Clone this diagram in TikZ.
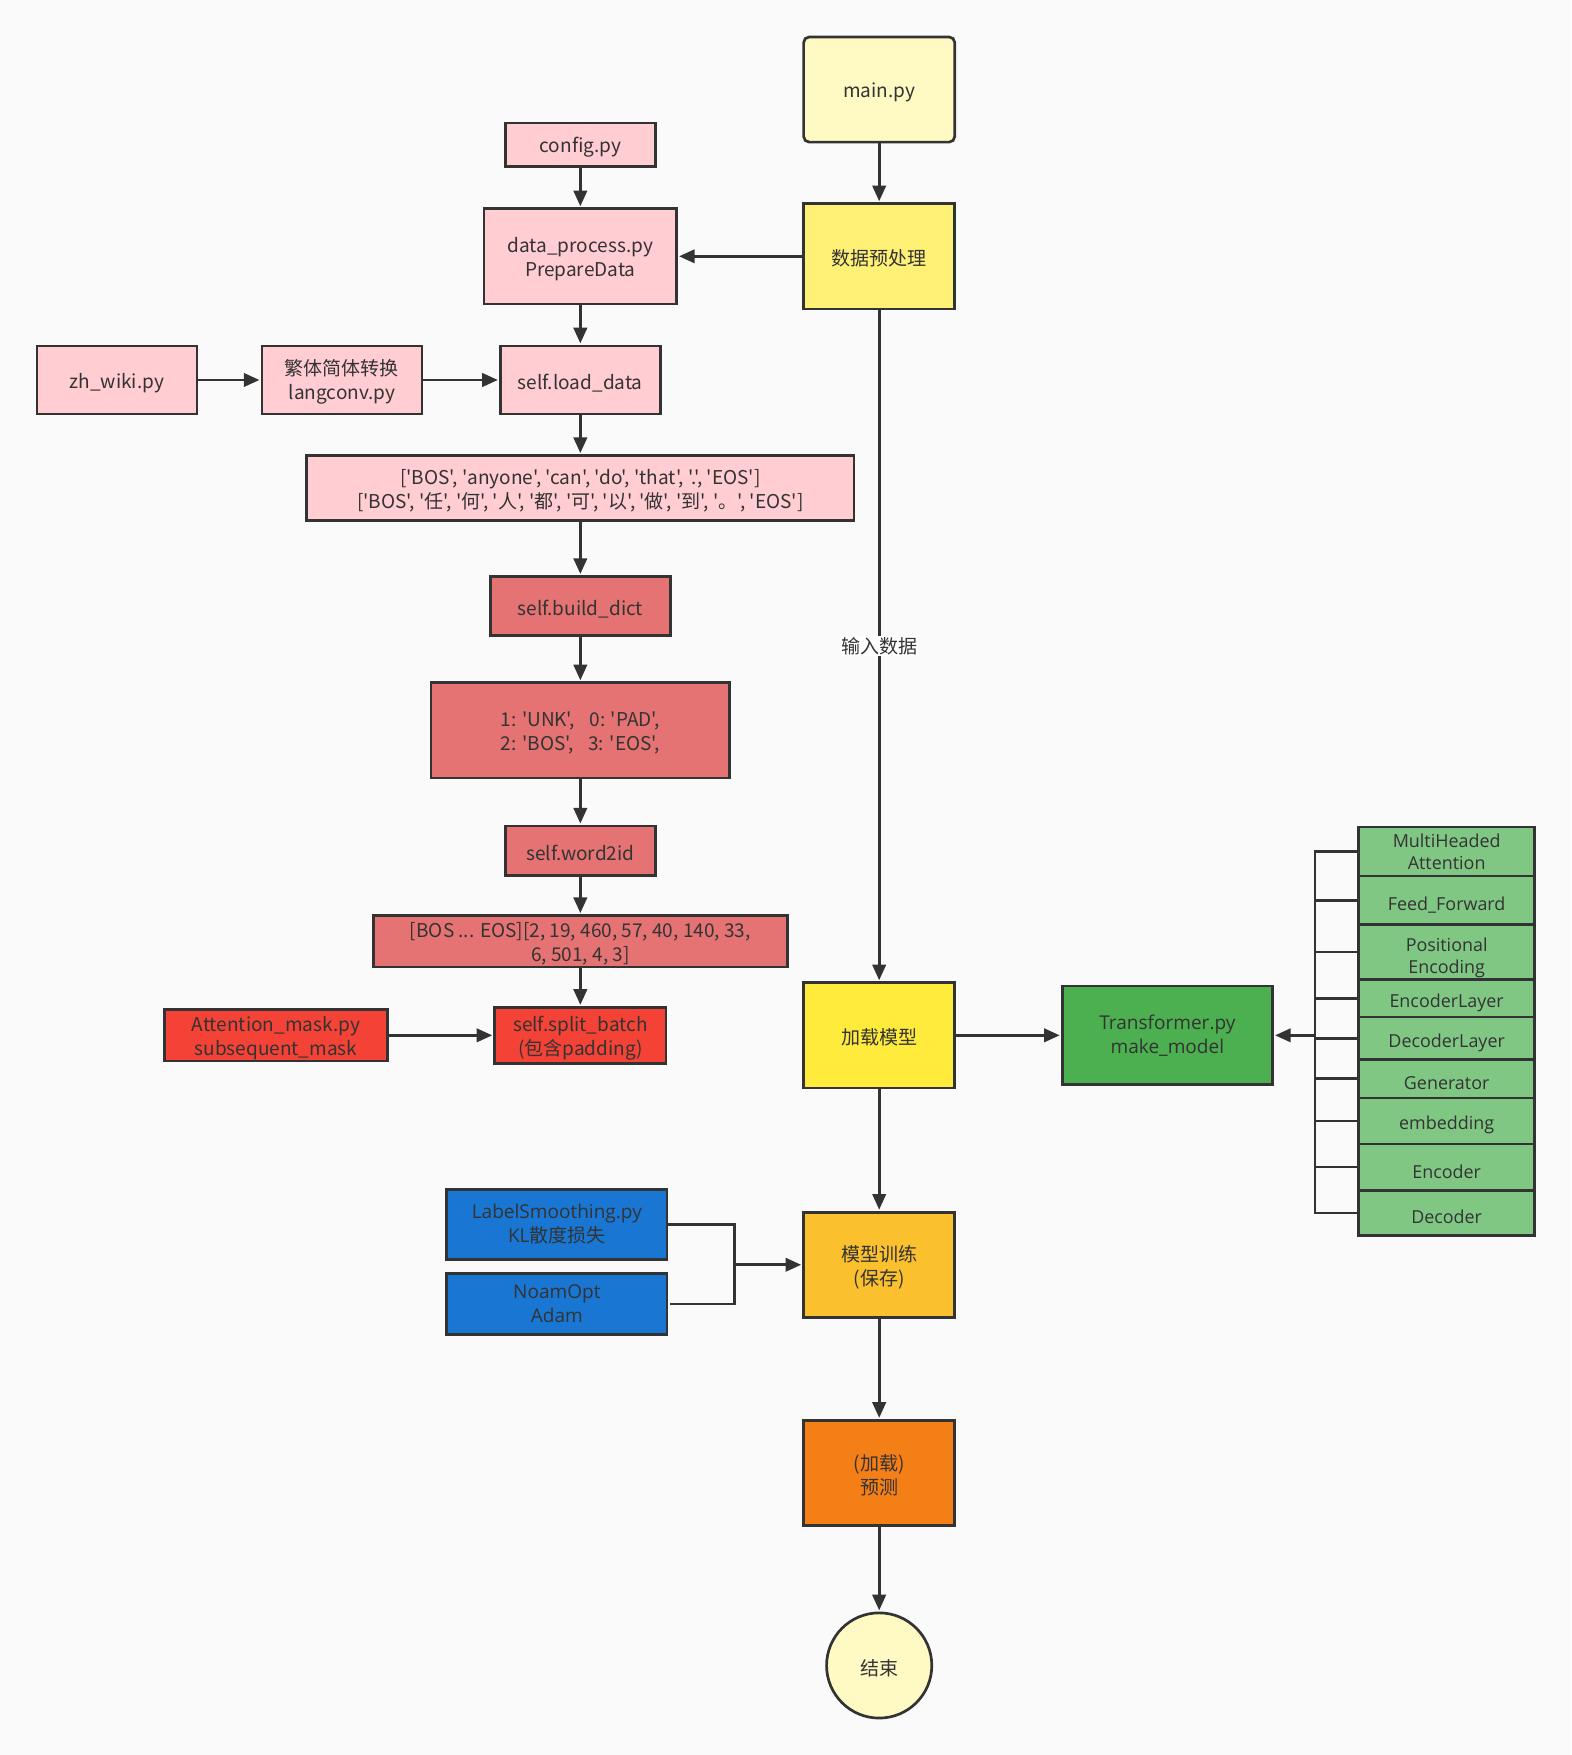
\documentclass[tikz,border=0pt]{standalone}
\usepackage{fontspec}
\setmainfont{Noto Sans CJK SC}[Ligatures=TeXOff]
\newfontfamily\segoe{Open Sans}[Ligatures=TeXOff]
\usetikzlibrary{arrows.meta,positioning}

\definecolor{bgcol}{HTML}{FAFAFA}
\definecolor{linecol}{HTML}{333333}
\definecolor{paleyellow}{HTML}{FFF9C4}
\definecolor{midyellow}{HTML}{FFF176}
\definecolor{yellow}{HTML}{FFEB3B}
\definecolor{amber}{HTML}{FBC02D}
\definecolor{orange}{HTML}{F57F17}
\definecolor{pink}{HTML}{FFCDD2}
\definecolor{salmon}{HTML}{E57373}
\definecolor{red}{HTML}{F44336}
\definecolor{darkgreen}{HTML}{4CAF50}
\definecolor{lightgreen}{HTML}{81C784}
\definecolor{blue}{HTML}{1976D2}

% strut for the first of two lines, sets the text a bit lower
\newcommand{\firstline}{\rule{0pt}{\liftht}}

\begin{document}
\begin{tikzpicture}[
    x = 1pt, y = -1pt, % one unit per pixel, y downwards
    > = {Triangle[length=14pt,width=12pt]}, % arrow head style
    shorten > = 1pt, % don't push arrow head into node
    line width = 2.4pt,
    color = linecol,
    font = \fontsize{17}{21.5}\selectfont
    ]

    \tikzset{
    lift/.store in = \liftht, lift = 18.5pt,
    box/.style = {draw = linecol, fill = #1, line width = 2.4pt,
                  inner xsep = 2pt, inner ysep = 1pt, align = center,
                  execute at begin node = {\rule{0pt}{\liftht}}},
    greenrow/.style = {box = lightgreen, outer sep = 0pt, minimum width = 157,
                       inner ysep = 0pt, lift = 20pt,
                       font = \segoe\fontsize{16}{20}\selectfont},
    segoefont/.style = {lift = 14pt, font = \segoe\fontsize{17}{21.5}\selectfont},
    every edge/.style = {draw, line width = 2.4pt}
    }

    \fill[bgcol] (0,0) rectangle (1404,1568);

    % main column
    \node[box=paleyellow, rounded corners=5pt, minimum width=135, minimum height=94] (main) at (785.5,80) {main.py};
    \node[box=midyellow, minimum width=135, minimum height=94] (pre) at (785.5,229) {数据预处理};
    \node[box=yellow, minimum width=135, minimum height=94] (load) at (785.5,925) {加载模型};
    \node[box=amber, minimum width=135, minimum height=94] (train) at (785.5,1130) {\firstline 模型训练\\(保存)};
    \node[box=orange, minimum width=135, minimum height=94] (pred) at (785.5,1316) {\firstline(加载)\\预测};
    \node[box=paleyellow, circle, inner sep=0pt, minimum size=94] (fin) at (785.5,1488) {结束};

    % data pipeline
    \node[box=pink, minimum width=134, minimum height=39] (config) at (518.5,129.5) {config.py};
    \node[box=pink, minimum width=172, minimum height=85] (dp) at (518.5,229) {\firstline data\_process.py\\PrepareData};
    \node[box=pink, minimum width=143, minimum height=61] (zh) at (104.5,339.5) {zh\_wiki.py};
    \node[box=pink, minimum width=143, minimum height=61] (lc) at (305.5,339.5) {\firstline 繁体简体转换\\langconv.py};
    \node[box=pink, minimum width=143, minimum height=61] (ld) at (518.5,339.5) {self.load\_data};
    \node[box=pink, minimum width=489, minimum height=58] (lst) at (518.5,436)
        {\firstline['BOS', 'anyone', 'can', 'do', 'that', '.', 'EOS']\\{}['BOS', '任', '何', '人', '都', '可', '以', '做', '到', '。', 'EOS']};
    \node[box=salmon, minimum width=161, minimum height=53] (bd) at (518.5,541.5) {self.build\_dict};
    \node[box=salmon, minimum width=267, minimum height=85] (dict) at (518.5,652.5)
        {\firstline 1: 'UNK',\hspace{13pt}0: 'PAD',\\2: 'BOS',\hspace{13pt}3: 'EOS',};
    \node[box=salmon, minimum width=134, minimum height=44] (w2i) at (518.5,760) {self.word2id};
    \node[box=salmon, minimum width=370, minimum height=46] (ids) at (518.5,841)
        {\firstline[BOS ... EOS][2, 19, 460, 57, 40, 140, 33,\\6, 501, 4, 3]};
    \node[box=red, minimum width=153, minimum height=50] (sb) at (518.5,925) {\firstline self.split\_batch\\(包含padding)};
    \node[box=red, minimum width=199, minimum height=46] (am) at (246.5,925) {\firstline Attention\_mask.py\\subsequent\_mask};

    % model
    \node[box=darkgreen, segoefont, minimum width=188, minimum height=88] (tr) at (1043,925) {Transformer.py\\make\_model};
    \node[greenrow, lift=14pt, minimum height=43.6, anchor=north] (r1) at (1292.5,739) {MultiHeaded\\Attention};
    \node[greenrow, minimum height=43.4, below=0pt of r1] (r2) {Feed\_Forward};
    \node[greenrow, lift=23pt, minimum height=49, below=0pt of r2] (r3) {\firstline Positional\\Encoding};
    \node[greenrow, minimum height=33.6, below=0pt of r3] (r4) {EncoderLayer};
    \node[greenrow, minimum height=37.9, below=0pt of r4] (r5) {DecoderLayer};
    \node[greenrow, minimum height=34.5, below=0pt of r5] (r6) {Generator};
    \node[greenrow, minimum height=41, below=0pt of r6] (r7) {embedding};
    \node[greenrow, minimum height=41.5, below=0pt of r7] (r8) {Encoder};
    \node[greenrow, minimum height=40.2, below=0pt of r8] (r9) {Decoder};

    % training helpers
    \node[box=blue, segoefont, minimum width=197, minimum height=63] (ls) at (497.5,1094) {LabelSmoothing.py\\KL\normalfont\fontsize{17}{21.5}\selectfont 散度损失};
    \node[box=blue, segoefont, minimum width=197, minimum height=54] (noam) at (497.5,1165) {NoamOpt\\Adam};

    \path[->] (main) edge (pre);
    \path[->] (pre) edge (dp);
    \path[->] (config) edge (dp);
    \path[->] (dp) edge (ld);
    \path[->] (zh) edge (lc);
    \path[->] (lc) edge (ld);
    \path[->] (ld) edge (lst);
    \path[->] (lst) edge (bd);
    \path[->] (bd) edge (dict);
    \path[->] (dict) edge (w2i);
    \path[->] (w2i) edge (ids);
    \path[->] (ids) edge (sb);
    \path[->] (am) edge (sb);
    \path[->] (pre) edge node[fill=white, inner sep=1pt]{输入数据} (load);
    \path[->] (load) edge (tr);
    \path[->] (load) edge (train);
    \path[->] (train) edge (pred);
    \path[->] (pred) edge (fin);

    % bus from the parts
    \coordinate (bus) at (1175,925);
    \draw (r1.west) -| (bus) |- (r9.west);
    \foreach \r in {r2,r3,r4,r5,r6,r7,r8}
        \draw (\r.west) -- (\r.west -| bus);
    \path[->] (bus) edge (tr);

    % loss and optimiser
    \coordinate (join) at (656,1130);
    \draw (ls.east) -| (join) |- (noam.east);
    \path[->] (join) edge (train);
\end{tikzpicture}
\end{document}
